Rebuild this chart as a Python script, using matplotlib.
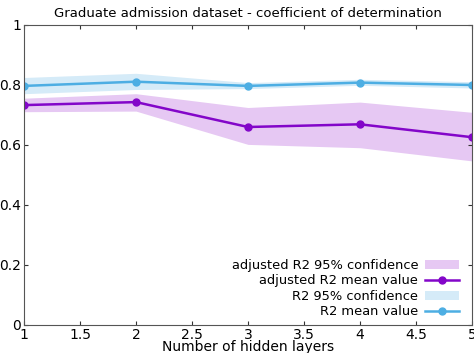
import matplotlib
matplotlib.use("Agg")
import matplotlib.pyplot as plt

# numero de capas ocultas
capas = [1, 2, 3, 4, 5]

# R2
r2_media = [0.797, 0.811, 0.797, 0.808, 0.800]
r2_sup = [0.825, 0.839, 0.808, 0.819, 0.811]
r2_inf = [0.771, 0.785, 0.788, 0.799, 0.790]

# R2 ajustado
adj_media = [0.733, 0.743, 0.660, 0.669, 0.626]
adj_sup = [0.756, 0.771, 0.725, 0.743, 0.709]
adj_inf = [0.711, 0.713, 0.602, 0.591, 0.547]

AZUL = "#4daee3"
AZUL_CLARO = "#d5ebf8"
MORADO = "#8306c9"
MORADO_CLARO = "#e6c8f3"

fig = plt.figure(figsize=(4.74, 3.53), dpi=100)
ax = fig.add_axes([24 / 474, 28 / 353, 448 / 474, 300 / 353])

ax.fill_between(capas, adj_inf, adj_sup, color=MORADO_CLARO, lw=0,
                label="adjusted R2 95% confidence")
ax.plot(capas, adj_media, "-o", color=MORADO, lw=1.8, ms=5,
        label="adjusted R2 mean value")
ax.fill_between(capas, r2_inf, r2_sup, color=AZUL_CLARO, lw=0,
                label="R2 95% confidence")
ax.plot(capas, r2_media, "-o", color=AZUL, lw=1.8, ms=5,
        label="R2 mean value")

ax.set_xlim(1, 5)
ax.set_ylim(0, 1)
ax.set_xticks([1, 1.5, 2, 2.5, 3, 3.5, 4, 4.5, 5])
ax.set_xticklabels(["1", "1.5", "2", "2.5", "3", "3.5", "4", "4.5", "5"])
ax.set_yticks([0, 0.2, 0.4, 0.6, 0.8, 1])
ax.set_yticklabels(["0", "0.2", "0.4", "0.6", "0.8", "1"])
ax.tick_params(direction="in", top=True, right=True, length=3, labelsize=10,
               pad=2, color="#333333")
for s in ax.spines.values():
    s.set_color("#555555")
    s.set_linewidth(0.8)

ax.set_title("Graduate admission dataset - coefficient of determination",
             fontsize=9.5, pad=6)
ax.set_xlabel("Number of hidden layers", fontsize=10, labelpad=-1)

# leyenda abajo a la derecha, texto antes del simbolo
leg = ax.legend(loc="lower right", frameon=False, markerfirst=False,
                fontsize=9.4, handlelength=2.6, labelspacing=0.2,
                handletextpad=0.5, borderaxespad=0.1,
                bbox_to_anchor=(0.985, 0.0))

fig.savefig("out.png", dpi=100)
